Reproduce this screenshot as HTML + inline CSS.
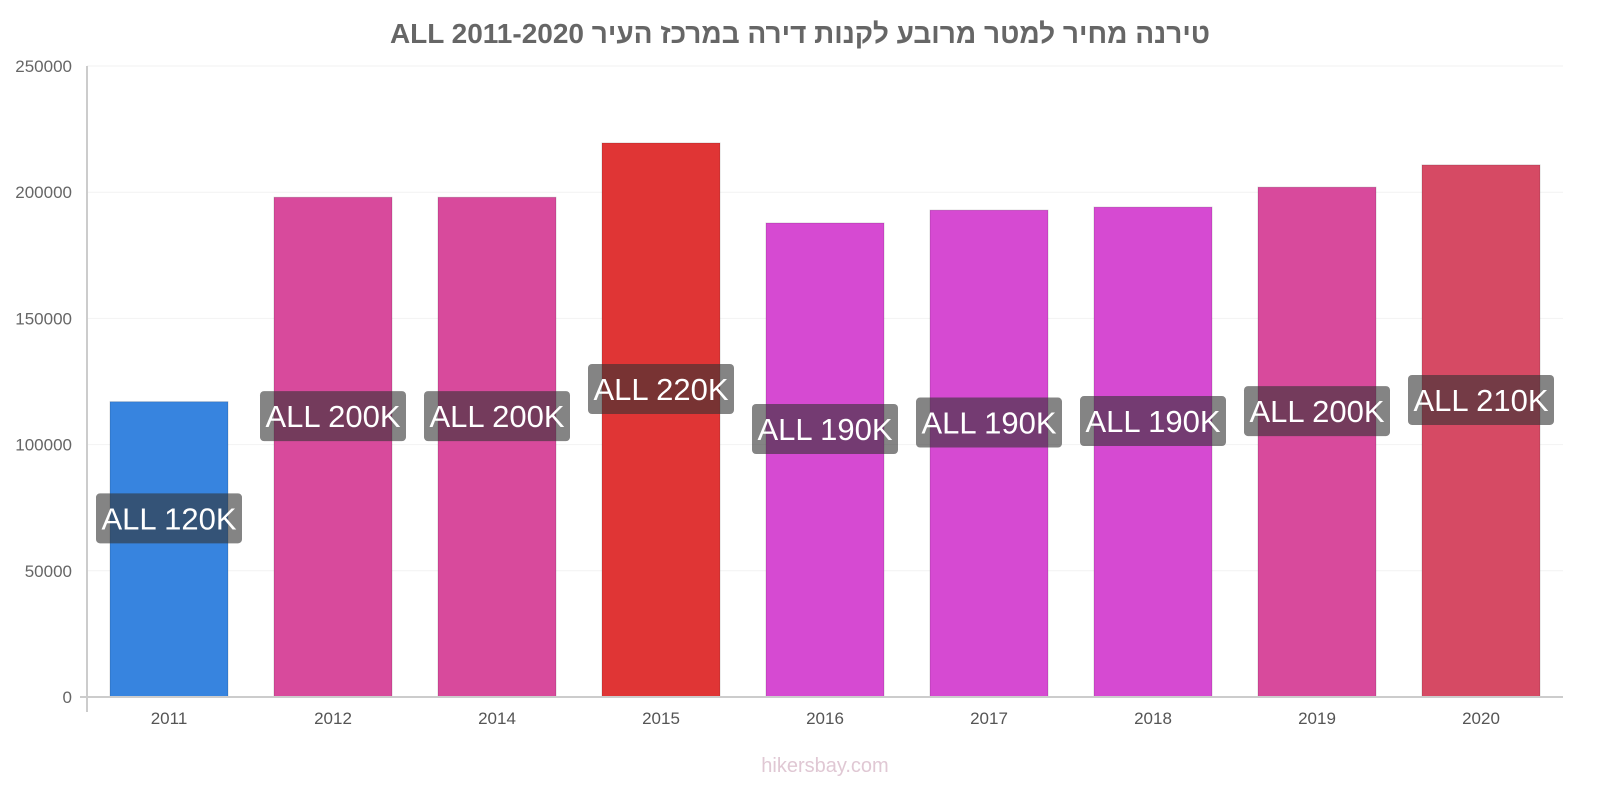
<!DOCTYPE html>
<html><head><meta charset="utf-8"><style>
html,body{margin:0;padding:0;background:#fff;font-family:"Liberation Sans",sans-serif;overflow:hidden;width:1600px;height:800px}
svg{display:block}
</style></head><body>
<svg id="chart" width="1600" height="800" xmlns="http://www.w3.org/2000/svg" font-family="Liberation Sans, sans-serif">
<text x="800" y="43" text-anchor="middle" font-size="28" font-weight="bold" fill="#666" direction="rtl">טירנה מחיר למטר מרובע לקנות דירה במרכז העיר ALL 2011-2020</text>
<g id="grid"></g><g id="bars"></g><g id="labels"></g>
<line x1="87" y1="66" x2="87" y2="712" stroke="#ccc" stroke-width="2"/>
<line x1="80" y1="697" x2="1563" y2="697" stroke="#ccc" stroke-width="2"/>
<text x="825" y="772" text-anchor="middle" font-size="20" fill="#e0c8d4">hikersbay.com</text>
</svg>
<script>
const categories=["2011","2012","2014","2015","2016","2017","2018","2019","2020"];
const values=[117000,198000,198000,219500,187800,192900,194100,202000,210800];
const valueLabels=["ALL 120K","ALL 200K","ALL 200K","ALL 220K","ALL 190K","ALL 190K","ALL 190K","ALL 200K","ALL 210K"];
const colors=["#3784df","#d84a9c","#d84a9c","#e03535","#d64ad2","#d64ad2","#d64ad2","#d84a9c","#d64a64"];
const yTicks=[0,50000,100000,150000,200000,250000];
const NS="http://www.w3.org/2000/svg";
const x0=87,x1=1563,yBase=697,yTop=66,yMax=250000;
const band=(x1-x0)/categories.length;
const y=v=>yBase-(v/yMax)*(yBase-yTop);
function mk(t,a,p){const e=document.createElementNS(NS,t);for(const k in a)e.setAttribute(k,a[k]);p.appendChild(e);return e;}
const grid=document.getElementById('grid'),bars=document.getElementById('bars'),labels=document.getElementById('labels'),svg=document.getElementById('chart');
yTicks.forEach(t=>{
 const l=mk('line',{x1:x0,x2:x1,y1:y(t),y2:y(t),stroke:'#f2f2f2'},grid);
 
 
 const tx=mk('text',{x:72,y:y(t)+6,'text-anchor':'end','font-size':17,fill:'#666'},grid);
 tx.textContent=t;
 
 
});
categories.forEach((c,i)=>{
 const cx=x0+band*(i+0.5),top=y(values[i]);
 const r=mk('rect',{x:cx-59,y:top,width:118,height:yBase-top,fill:colors[i],stroke:'rgba(0,0,0,0.15)'},bars);
 
 
 const tx=mk('text',{x:cx,y:724,'text-anchor':'middle','font-size':17,fill:'#555'},svg);
 tx.textContent=c;
 
 
 const ly=(top+yBase)/2-31;
 const bx=mk('rect',{x:cx-73,y:ly-25,width:146,height:50,rx:4,fill:'rgba(50,50,50,0.6)'},labels);
 
 
 const lt=mk('text',{x:cx,y:ly+11,'text-anchor':'middle','font-size':31,fill:'#fff'},labels);
 lt.textContent=valueLabels[i];
 
 
});
</script>
</body></html>
